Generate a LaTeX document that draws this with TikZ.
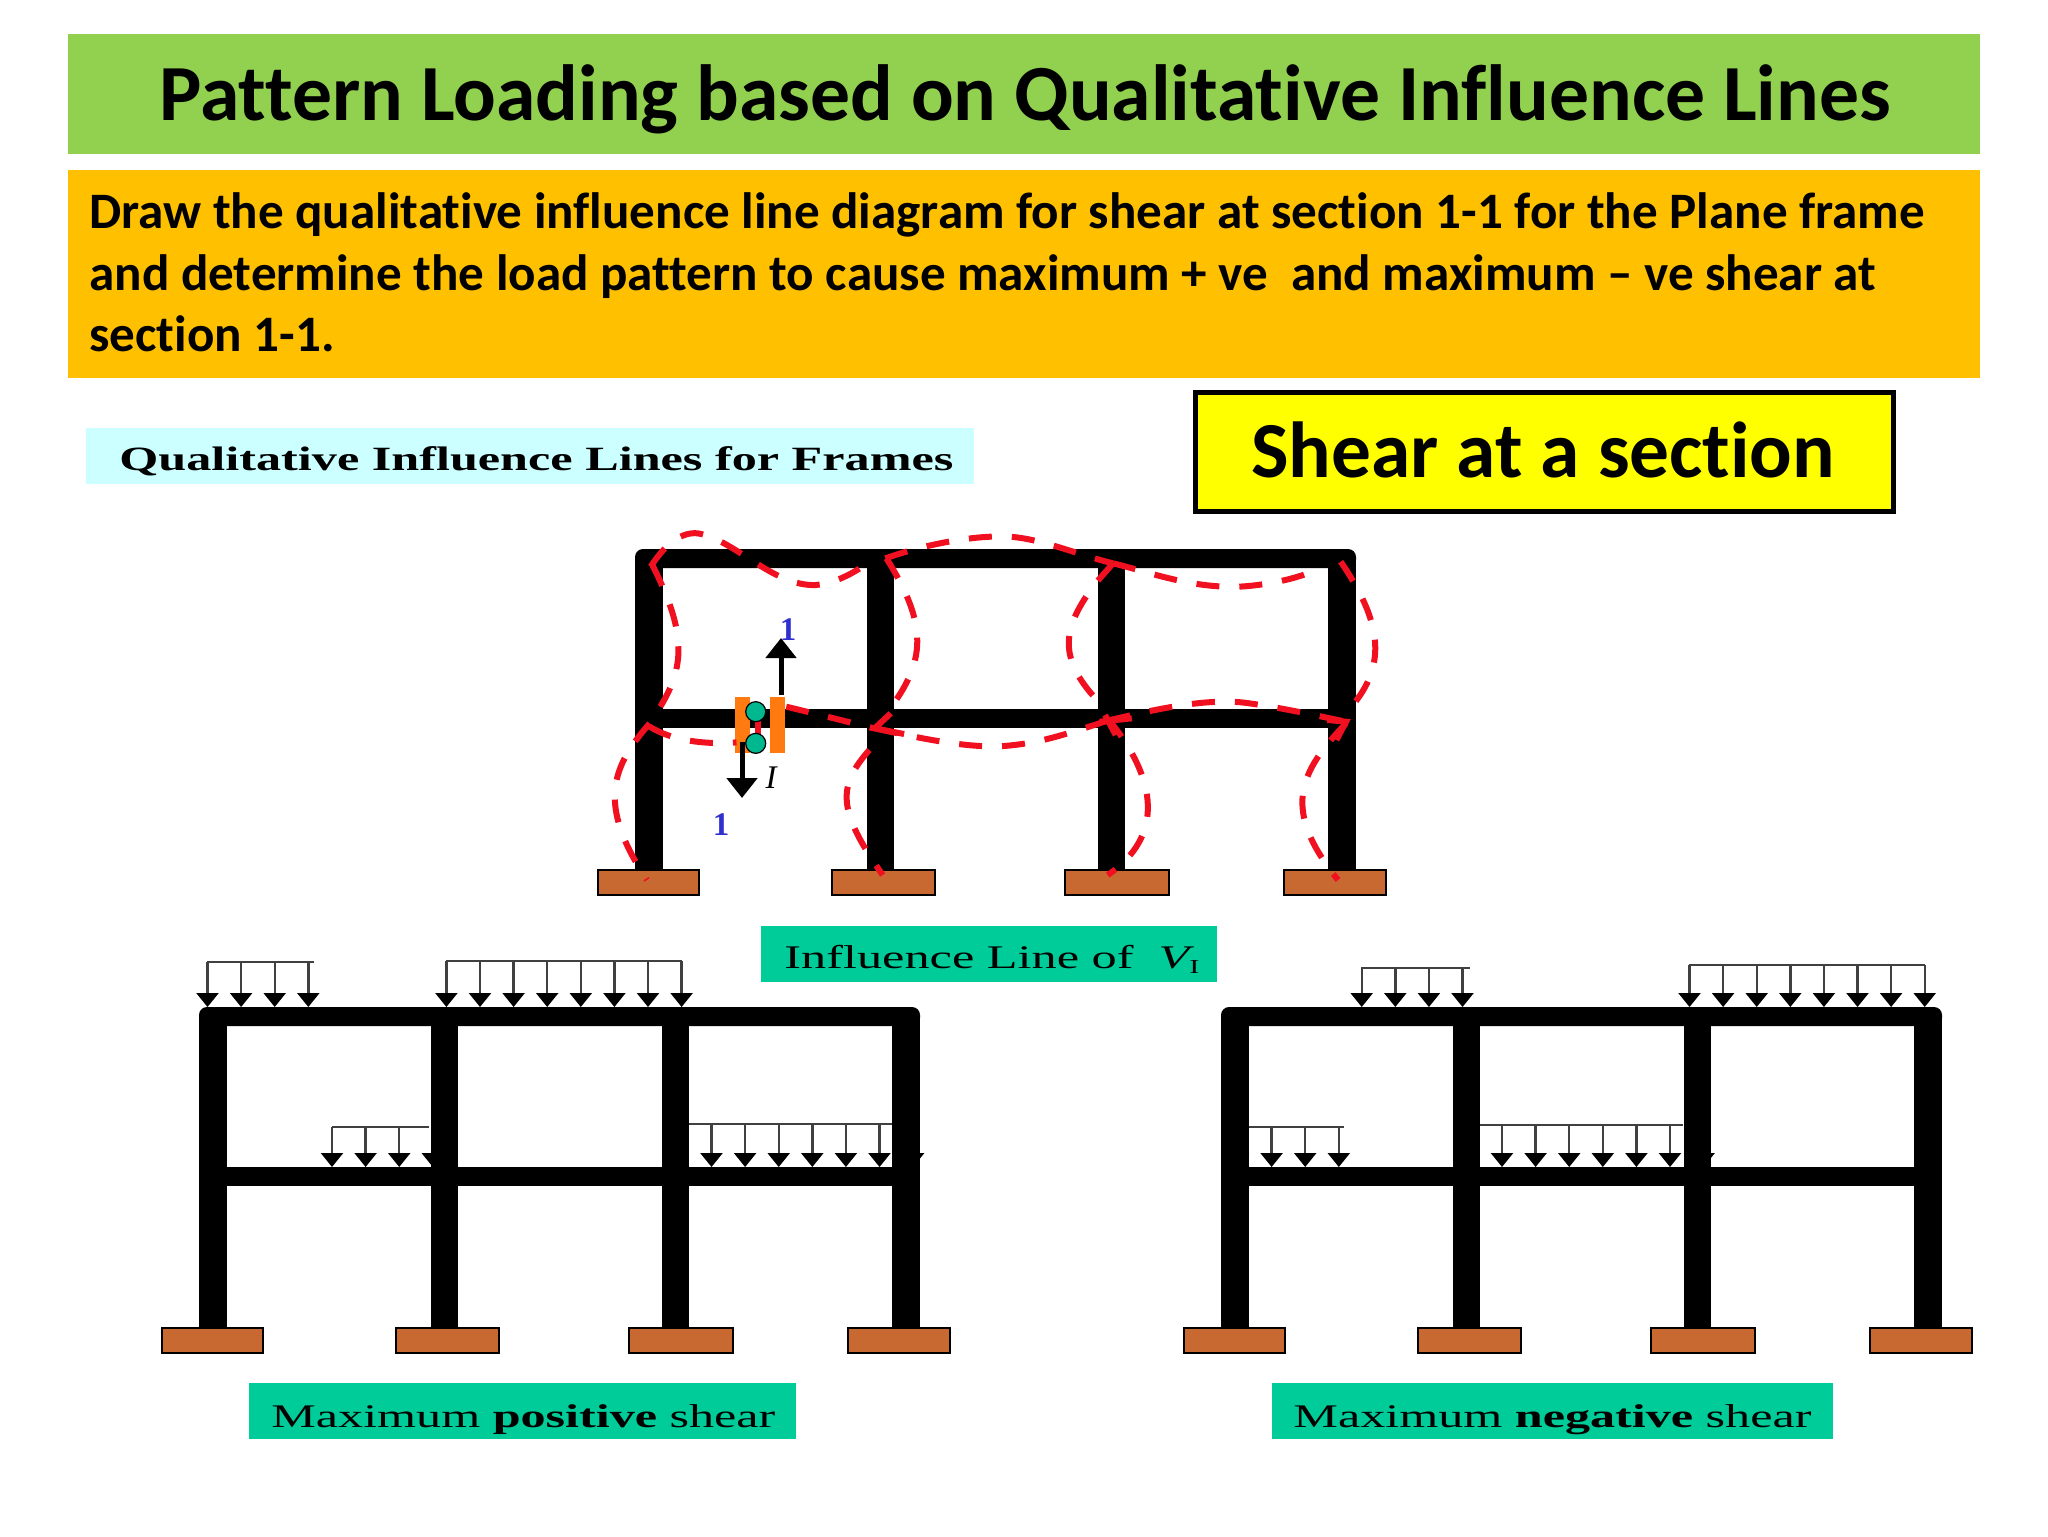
\documentclass[tikz,border=0pt]{standalone}
\usepackage{fontspec}
\usepackage{graphicx}
\usetikzlibrary{arrows.meta}
\setmainfont{Carlito}[Ligatures={TeX,NoCommon}]
\newfontfamily\timesf{Liberation Serif}
\definecolor{titlegreen}{HTML}{92D050}
\definecolor{taskorange}{HTML}{FFC000}
\definecolor{paleblue}{HTML}{CCFFFF}
\definecolor{labelteal}{HTML}{00CC99}
\definecolor{footbrown}{HTML}{C96932}
\definecolor{sectorange}{HTML}{FF7A10}
\definecolor{hingeteal}{HTML}{00B890}
\definecolor{unitblue}{HTML}{3030D0}
\definecolor{curvered}{HTML}{F01020}
\definecolor{puryellow}{HTML}{FFFF00}
\tikzset{
  x=0.5pt,y=-0.5pt,
  titletext/.style={anchor=base west,inner sep=0pt,font=\bfseries\fontsize{39.8}{45}\selectfont},
  tasktext/.style={anchor=base west,inner sep=0pt,font=\bfseries\fontsize{25.55}{30}\selectfont},
  sectext/.style={anchor=base west,inner sep=0pt,font=\bfseries\fontsize{39.7}{46}\selectfont},
  serifbox/.style={anchor=base west,inner sep=0pt,font=\timesf\fontsize{16.5}{20}\selectfont},
  unitlabel/.style={inner sep=0pt,text=unitblue,font=\timesf\bfseries\fontsize{16.5}{18}\selectfont},
  footing/.style={fill=footbrown,draw=black,line width=1pt},
  deflected/.style={draw=curvered,line width=3pt,dash pattern=on 11.5pt off 10pt},
  deflsolid/.style={draw=curvered,line width=3pt},
  loadline/.style={draw=black!75,line width=1.2pt},
  loadarrow/.style={draw=black!75,line width=1.2pt,-{Triangle[length=7pt,width=11pt,color=black]}},
  unitarrow/.style={draw=black,line width=2.5pt,-{Triangle[length=10pt,width=15pt]}},
}
% frame: origin is the outer top-left corner
\newcommand{\bentframe}[2]{%
  \begin{scope}[shift={(#1,#2)}]
    \fill[black,rounded corners=4pt] (0,0) rectangle (721,19);
    \fill[black] (0,8) rectangle (28,323);
    \fill[black] (232,0) rectangle (259,323);
    \fill[black] (463,0) rectangle (490,323);
    \fill[black] (693,8) rectangle (721,323);
    \fill[black] (0,160) rectangle (721,179);
    \draw[footing] (-37,321) rectangle (64,346);
    \draw[footing] (197,321) rectangle (300,346);
    \draw[footing] (430,321) rectangle (534,346);
    \draw[footing] (649,321) rectangle (751,346);
  \end{scope}}
% load: first x, number of arrows, bar y, tip y, bar from, bar to
\newcommand{\udl}[6]{%
  \draw[loadline] (#5,#3) -- (#6,#3);
  \foreach \k in {1,...,#2}{
    \draw[loadarrow] ({#1+33.6*(\k-1)},#3) -- ({#1+33.6*(\k-1)},#4);
  }}
\begin{document}
\begin{tikzpicture}
\path[fill=white,use as bounding box] (0,0) rectangle (2048,1536);
% header bands
\fill[titlegreen] (68,34) rectangle (1980,154);
\fill[taskorange] (68,170) rectangle (1980,378);
\node[titletext] (title) at (159,120) {Pattern Loading based on Qualitative Influence Lines};
\node[tasktext] (task1) at (89,228) {Draw the qualitative influence line diagram for shear at section 1-1 for the Plane frame};
\node[tasktext] (task2) at (89,290) {and determine the load pattern to cause maximum + ve\ \ and maximum -- ve shear at};
\node[tasktext] (task3) at (89,351) {section 1-1.};
% labels
\fill[paleblue] (86,428) rectangle (974,484);
\node[serifbox,font=\timesf\bfseries\fontsize{17}{20}\selectfont] (qual) at (119,470) {\resizebox{417pt}{\height}{Qualitative Influence Lines for Frames}};
\draw[fill=puryellow,draw=black,line width=2.5pt] (1195,392) rectangle (1893,511);
\node[sectext] (shear) at (1251,477) {Shear at a section};
\fill[labelteal] (761,926) rectangle (1217,982);
\node[serifbox] (infl) at (784,968) {\resizebox{207.5pt}{\height}{Influence Line of\ \ {\itshape V}\raisebox{-.35ex}{\scalebox{.6}{I}}}};
\fill[labelteal] (249,1383) rectangle (796,1439);
\node[serifbox] (maxpos) at (271,1427) {\resizebox{252pt}{\height}{Maximum \textbf{positive} shear}};
\fill[labelteal] (1272,1383) rectangle (1833,1439);
\node[serifbox] (maxneg) at (1293,1427) {\resizebox{259pt}{\height}{Maximum \textbf{negative} shear}};
% loads, drawn under the frames
\udl{207.5}{4}{962}{1007}{207}{314}
\udl{446.4}{8}{961}{1007}{446}{682}
\udl{332}{4}{1127}{1167}{332}{429}
\udl{711.5}{7}{1124}{1167}{689}{893}
\udl{1361.7}{4}{968}{1007}{1361}{1470}
\udl{1689.5}{8}{965}{1007}{1689}{1925}
\udl{1238}{4}{1127}{1167}{1248}{1344}
\udl{1502}{7}{1125}{1167}{1480}{1683}
% frames
\bentframe{635}{549}
\bentframe{199}{1007}
\bentframe{1221}{1007}
% section at 1-1
\fill[sectorange] (735,697) rectangle (750,753);
\fill[sectorange] (770,697) rectangle (785,753);
\begin{scope}[shift={(580,510)},x=0.26786pt,y=-0.16667pt]
  \draw[deflected] (132,170) .. controls (160,100) and (190,65) .. (220,70) .. controls (290,90) and (360,230) .. (440,225) .. controls (480,220) and (520,180) .. (545,150);
  \draw[deflected] (570,145) .. controls (650,100) and (740,75) .. (800,80) .. controls (860,85) and (930,135) .. (995,160);
  \draw[deflected] (995,160) .. controls (1060,185) and (1140,235) .. (1230,230) .. controls (1290,225) and (1350,200) .. (1375,178);
  \draw[deflected] (135,165) .. controls (200,370) and (195,470) .. (150,590);
  \draw[deflected] (572,145) .. controls (640,320) and (650,430) .. (590,570);
  \draw[deflected] (995,160) -- (965,215) .. controls (900,350) and (890,440) .. (965,570);
  \draw[deflected] (1420,155) .. controls (1490,320) and (1510,450) .. (1445,580);
  \draw[deflected] (130,650) .. controls (170,690) and (230,705) .. (292,697);
  \draw[deflected] (385,590) .. controls (450,615) and (510,640) .. (550,655);
  \draw[deflected] (550,655) .. controls (650,690) and (740,720) .. (810,705) .. controls (870,695) and (930,660) .. (985,632);
  \draw[deflected] (985,632) .. controls (1080,595) and (1170,565) .. (1240,578) .. controls (1300,590) and (1370,615) .. (1430,635);
  \draw[deflected] (130,640) .. controls (60,770) and (30,880) .. (125,1110);
  \draw[deflected] (540,720) .. controls (480,830) and (480,900) .. (565,1095);
  \draw[deflected] (985,625) .. controls (1080,810) and (1090,980) .. (985,1095);
  \draw[deflected] (1430,640) .. controls (1340,790) and (1310,900) .. (1415,1110);
  \draw[deflsolid] (580,610) -- (550,655) -- (605,672);
  \draw[deflsolid] (970,635) -- (1030,625);
  \draw[deflsolid] (980,615) -- (1000,675);
  \draw[deflsolid] (1395,630) -- (1430,635) -- (1412,690);
  \draw[deflsolid] (332,610) -- (332,700);
  \coordinate (hu) at (328,605);
  \coordinate (hl) at (328,700);
  \node[draw=black,fill=hingeteal,line width=.6pt,circle,minimum size=10pt,inner sep=0pt] (hingeA) at (hu) {};
  \node[draw=black,fill=hingeteal,line width=.6pt,circle,minimum size=10pt,inner sep=0pt] (hingeB) at (hl) {};
\end{scope}
% unit forces
\coordinate (upstart) at (781,695);
\coordinate (uptip) at (781,638);
\coordinate (downstart) at (742,742);
\coordinate (downtip) at (742,798);
\draw[unitarrow] (upstart) -- (uptip);
\draw[unitarrow] (downstart) -- (downtip);
\node[unitlabel] (oneA) at (788,630) {1};
\node[unitlabel] (oneB) at (721,825) {1};
\node[inner sep=0pt,font=\timesf\itshape\fontsize{16.5}{18}\selectfont] (secI) at (771,778) {I};
\end{tikzpicture}
\end{document}
